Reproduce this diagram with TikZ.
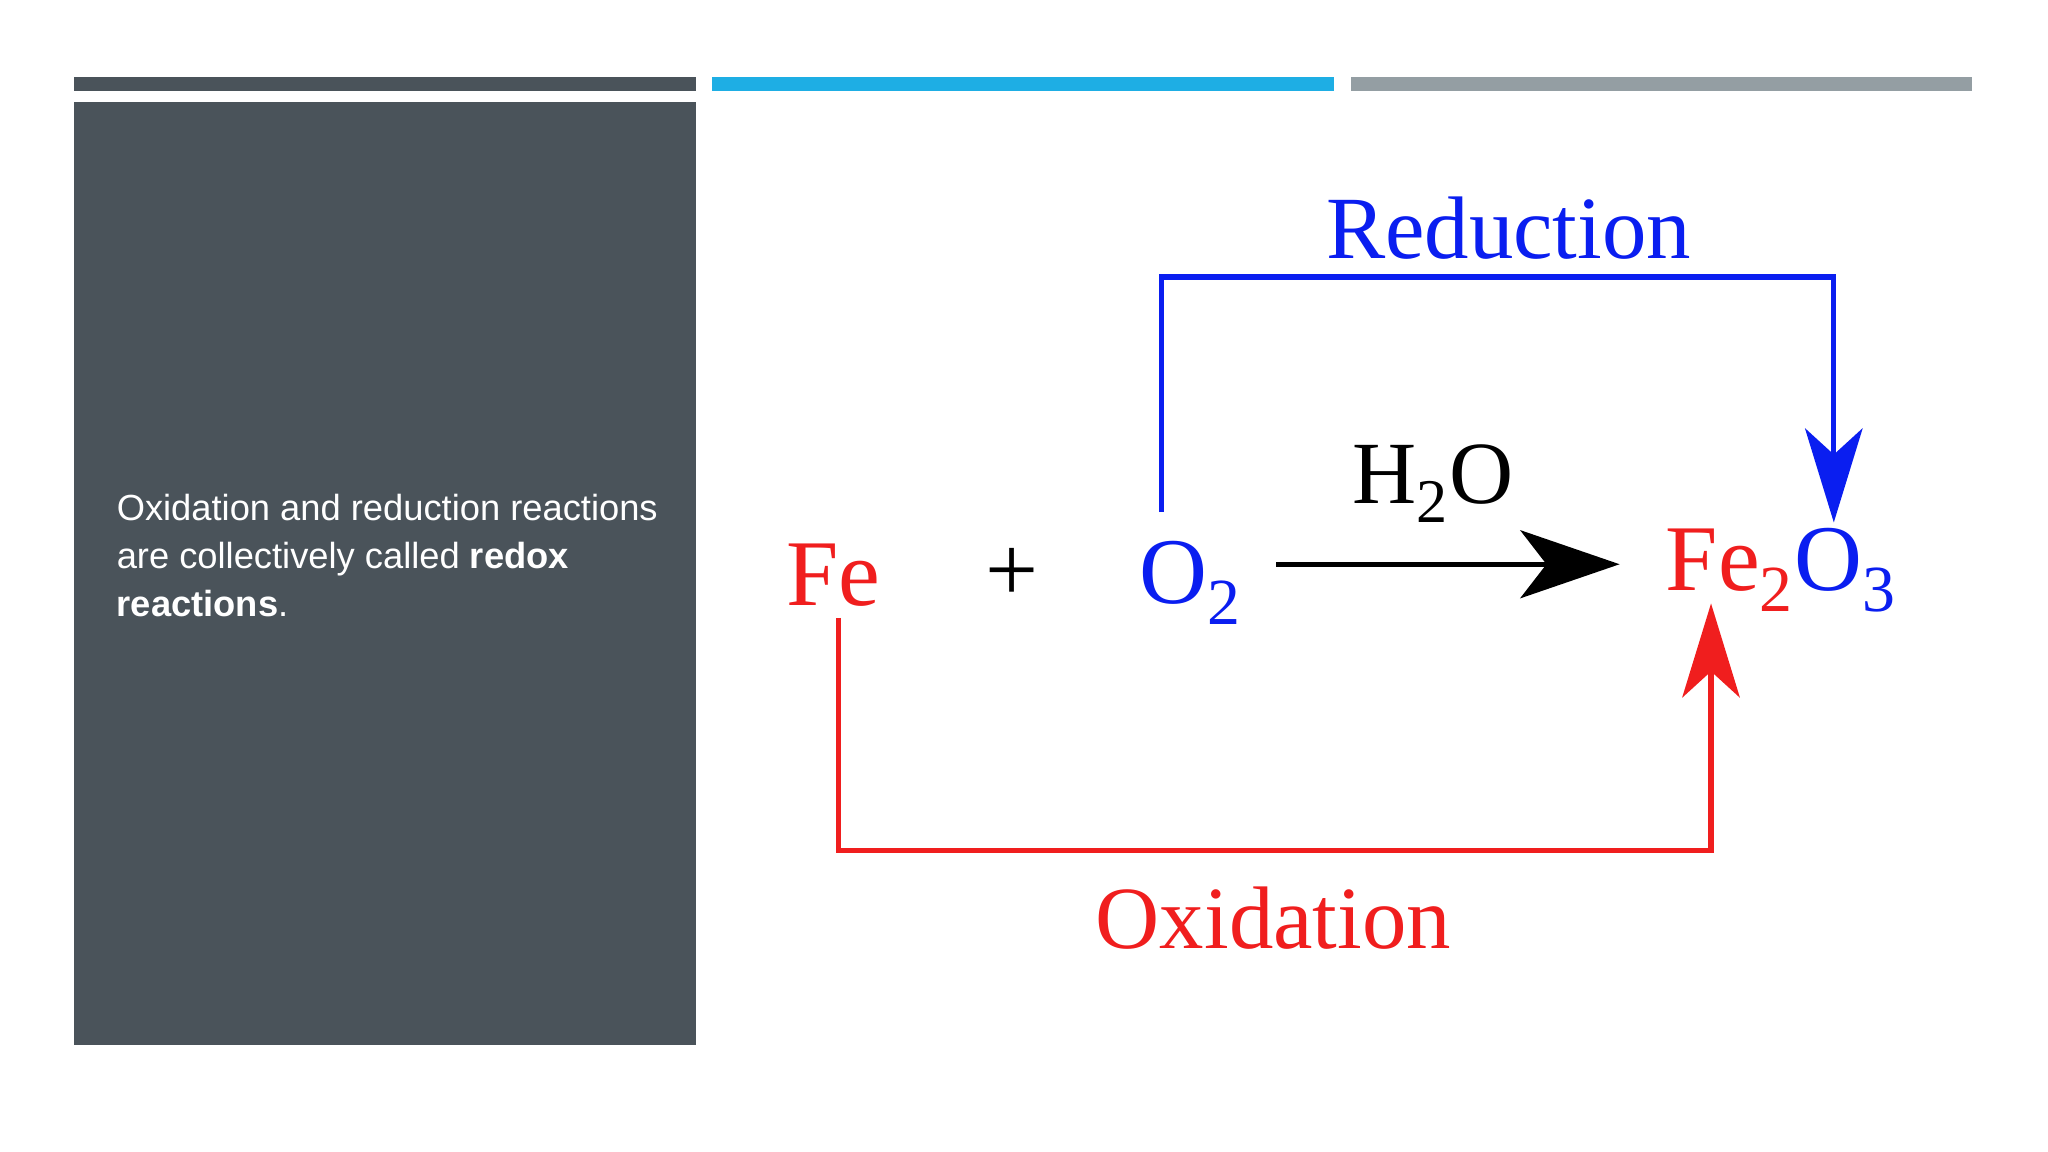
\documentclass[tikz,border=0pt]{standalone}
\usepackage{fontspec}
\setmainfont{Liberation Serif}
\newfontfamily\sansf{Liberation Sans}
\usetikzlibrary{arrows.meta}
\definecolor{panel}{HTML}{4A535A}
\definecolor{barblue}{HTML}{1EAEE4}
\definecolor{bargray}{HTML}{949EA3}
\definecolor{rblue}{HTML}{0A1EF0}
\definecolor{rred}{HTML}{F01E1E}
\tikzset{big/.style={font=\fontsize{36}{40}\selectfont, inner sep=0pt},
 lab/.style={font=\fontsize{34}{38}\selectfont, inner sep=0pt}}
\begin{document}
\begin{tikzpicture}[x=0.5pt,y=-0.5pt]
\useasboundingbox (0,0) rectangle (1568,882);
\fill[white] (0,0) rectangle (1568,882);
\fill[panel] (57,59) rectangle (533,70);
\fill[barblue] (545,59) rectangle (1021,70);
\fill[bargray] (1034,59) rectangle (1510,70);
\fill[panel] (57,78) rectangle (533,800);
\node[anchor=north west, text=white, align=left, font=\sansf\fontsize{13.9}{18.4}\selectfont, inner sep=0pt] (txt) at (89,378)
 {Oxidation and reduction reactions\\are collectively called \textbf{redox}\\\textbf{reactions}.};
\node[big, text=rred] (fe) at (638,440) {Fe};
\node[big] (plus) at (775,440) {+};
\node[big, text=rblue, anchor=base west] (o2) at (872,462) {O\textsubscript{2}};
\node[lab] (h2o) at (1097,370) {H\textsubscript{2}O};
\node[big, anchor=base west] (fe2o3) at (1275,452) {\textcolor{rred}{Fe\textsubscript{2}}\textcolor{rblue}{O\textsubscript{3}}};
\node[lab, text=rblue] (red) at (1155,175) {Reduction};
\node[lab, text=rred] (ox) at (975,703) {Oxidation};
\coordinate (a1) at (977,432); \coordinate (a2) at (1240,432);
\draw[line width=2pt, -{Stealth[length=38pt,width=26pt,inset=10pt]}] (a1) -- (a2);
\coordinate (r0) at (889,392); \coordinate (r1) at (1404,400);
\draw[rblue, line width=2pt, -{Stealth[length=36pt,width=22pt,inset=10pt]}] (r0) -- (889,212) -- (1404,212) -- (r1);
\coordinate (x0) at (642,473); \coordinate (x1) at (1310,462);
\draw[rred, line width=2pt, -{Stealth[length=36pt,width=22pt,inset=10pt]}] (x0) -- (642,651) -- (1310,651) -- (x1);
\end{tikzpicture}
\end{document}
